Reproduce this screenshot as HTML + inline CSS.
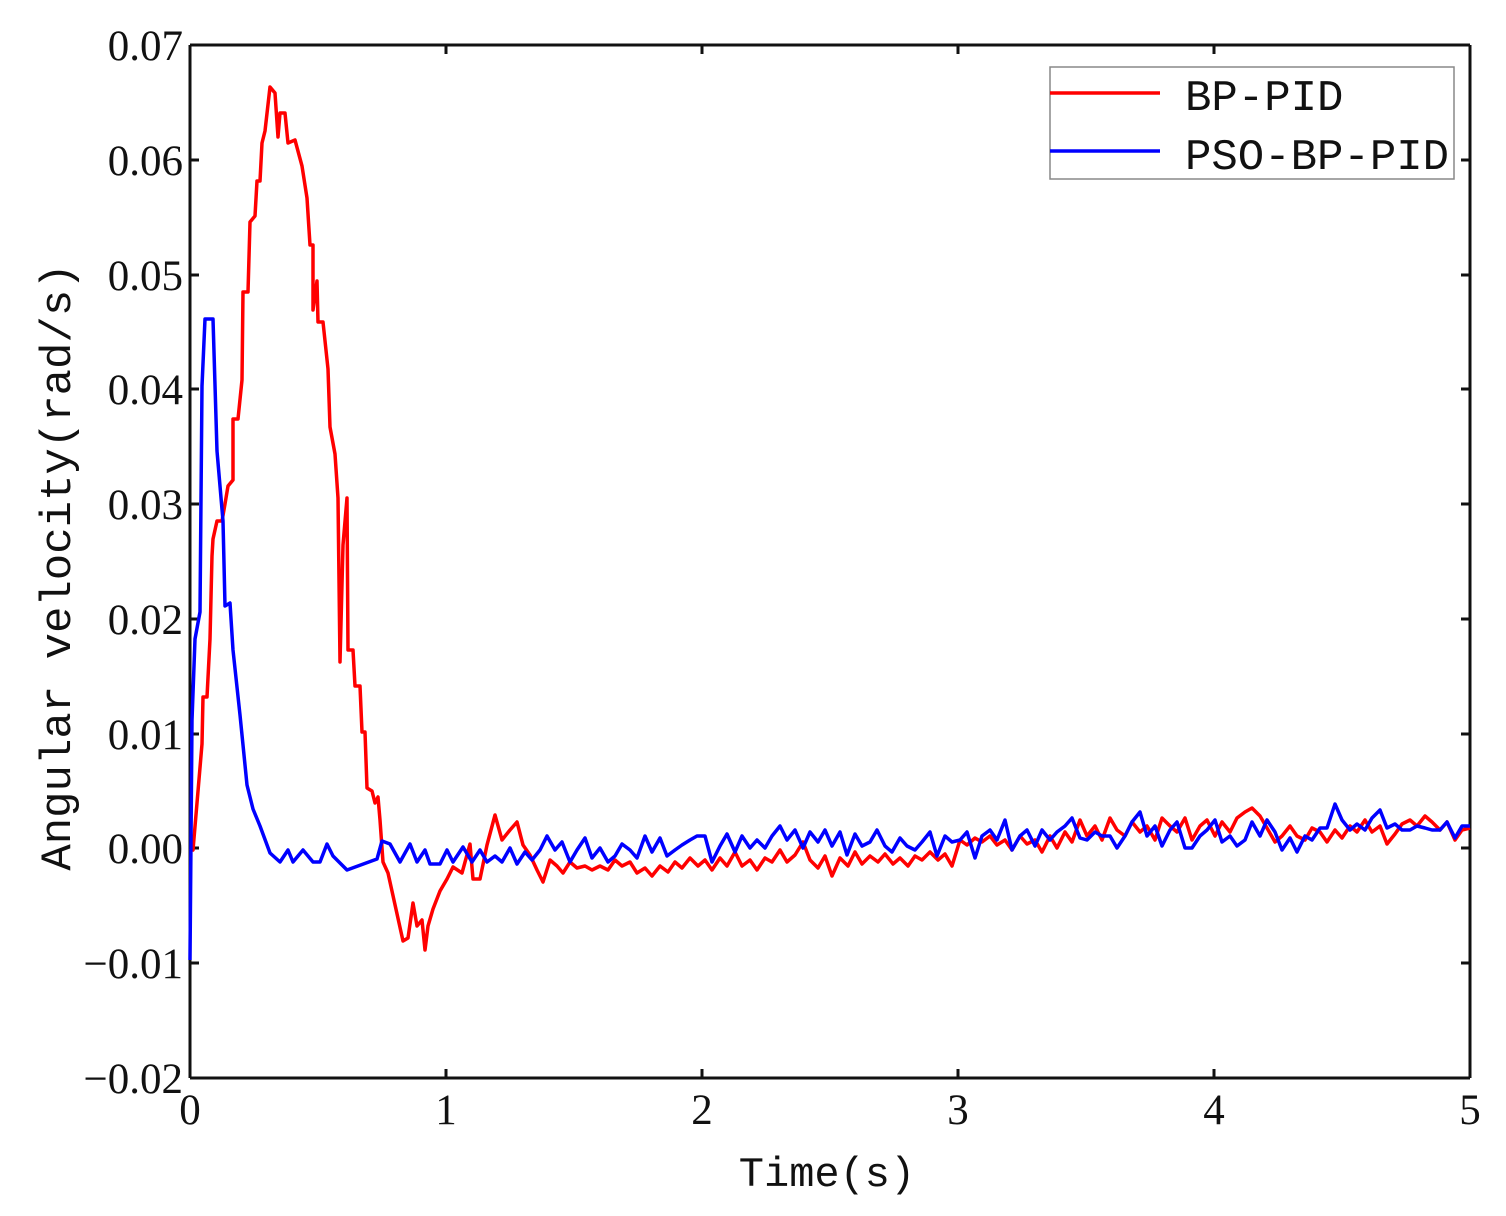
<!DOCTYPE html>
<html><head><meta charset="utf-8"><style>
html,body{margin:0;padding:0;background:#fff}
svg{display:block}
.t{font-family:"Liberation Serif",serif;font-size:43px;fill:#111}
.m{font-family:"Liberation Mono",monospace;fill:#111}
</style></head><body>
<svg width="1506" height="1216" viewBox="0 0 1506 1216" xmlns="http://www.w3.org/2000/svg">
<g stroke="#111" stroke-width="3">
<line x1="190" y1="45" x2="190" y2="1078"/><line x1="1470" y1="45" x2="1470" y2="1078"/>
<line x1="190" y1="45" x2="1470" y2="45"/><line x1="190" y1="1078" x2="1470" y2="1078"/>
<g stroke-width="3">
<line x1="446" y1="1078" x2="446" y2="1069"/><line x1="702" y1="1078" x2="702" y2="1069"/><line x1="958" y1="1078" x2="958" y2="1069"/><line x1="1214" y1="1078" x2="1214" y2="1069"/>
<line x1="446" y1="45" x2="446" y2="54"/><line x1="702" y1="45" x2="702" y2="54"/><line x1="958" y1="45" x2="958" y2="54"/><line x1="1214" y1="45" x2="1214" y2="54"/>
<line x1="190" y1="160" x2="199" y2="160"/><line x1="190" y1="275" x2="199" y2="275"/><line x1="190" y1="389" x2="199" y2="389"/><line x1="190" y1="504" x2="199" y2="504"/><line x1="190" y1="619" x2="199" y2="619"/><line x1="190" y1="734" x2="199" y2="734"/><line x1="190" y1="848" x2="199" y2="848"/><line x1="190" y1="963" x2="199" y2="963"/>
<line x1="1470" y1="160" x2="1461" y2="160"/><line x1="1470" y1="275" x2="1461" y2="275"/><line x1="1470" y1="389" x2="1461" y2="389"/><line x1="1470" y1="504" x2="1461" y2="504"/><line x1="1470" y1="619" x2="1461" y2="619"/><line x1="1470" y1="734" x2="1461" y2="734"/><line x1="1470" y1="848" x2="1461" y2="848"/><line x1="1470" y1="963" x2="1461" y2="963"/>
</g></g>
<g class="t" text-anchor="end">
<text x="183" y="60">0.07</text><text x="183" y="175">0.06</text><text x="183" y="290">0.05</text><text x="183" y="404">0.04</text><text x="183" y="519">0.03</text><text x="183" y="634">0.02</text><text x="183" y="749">0.01</text><text x="183" y="863">0.00</text><text x="183" y="978">−0.01</text><text x="183" y="1093">−0.02</text>
</g>
<g class="t" text-anchor="middle">
<text x="190" y="1124">0</text><text x="446" y="1124">1</text><text x="702" y="1124">2</text><text x="958" y="1124">3</text><text x="1214" y="1124">4</text><text x="1470" y="1124">5</text>
</g>
<text class="m" x="827" y="1186" font-size="42" text-anchor="middle">Time(s)</text>
<text class="m" font-size="44" text-anchor="middle" transform="translate(70,567) rotate(-90)">Angular velocity(rad/s)</text>
<polyline fill="none" stroke="#ff0000" stroke-width="3.5" stroke-linejoin="round" points="190,848 193,850 197,803 202,744 203,697 207,697 210,639 212,556 213,539 217,521 222,521 225,504 228,486 233,480 233,419 238,419 242,380 243,292 248,292 250,222 255,216 257,181 260,181 262,143 265,131 270,87 275,93 278,137 280,113 285,113 288,143 295,140 302,166 307,198 310,245 313,245 313,310 317,281 318,322 323,322 328,369 330,427 335,454 338,498 340,662 343,545 347,498 348,650 353,650 355,686 360,686 362,732 365,732 367,788 372,791 375,803 378,797 380,820 383,862 388,873 403,941 408,938 413,903 417,926 422,920 425,950 428,926 433,909 440,891 447,879 453,867 462,873 470,844 473,879 480,879 487,845 495,815 502,840 510,830 517,822 523,845 530,855 537,870 543,882 550,860 557,866 563,873 570,862 577,868 585,866 592,870 600,866 608,870 615,860 622,866 630,862 637,873 645,868 652,876 660,866 668,872 675,862 682,868 690,858 698,866 705,860 712,870 720,858 727,866 735,852 742,866 750,860 757,870 765,858 772,862 780,850 787,862 795,855 803,842 810,860 818,868 825,856 832,876 840,858 848,866 855,852 862,864 870,856 878,862 885,854 893,864 900,858 908,866 915,856 922,860 930,852 938,860 945,854 952,866 960,840 967,845 975,838 982,842 990,836 997,845 1005,840 1012,850 1020,836 1027,844 1035,840 1042,852 1050,836 1057,848 1065,832 1072,842 1080,820 1087,836 1095,826 1102,840 1110,818 1117,830 1125,836 1132,822 1140,832 1147,826 1155,840 1162,818 1170,826 1177,832 1185,818 1192,840 1200,826 1207,820 1215,836 1222,822 1230,832 1237,818 1245,812 1252,808 1260,816 1267,828 1275,842 1282,836 1290,826 1297,836 1305,840 1312,828 1320,832 1327,842 1335,830 1342,838 1350,826 1357,832 1365,820 1372,832 1380,826 1387,844 1395,834 1402,824 1410,820 1417,826 1425,816 1432,822 1440,830 1447,822 1455,840 1462,830 1470,828"/>
<polyline fill="none" stroke="#0000ff" stroke-width="3.5" stroke-linejoin="round" points="190,960 192,720 195,639 200,612 202,386 205,319 213,319 217,451 223,521 225,606 230,603 233,650 240,715 247,785 253,809 260,826 270,853 280,862 288,850 293,862 303,850 313,862 320,862 327,844 333,856 347,870 377,859 382,841 390,844 400,862 410,844 417,862 425,850 430,864 440,864 447,850 453,862 463,847 472,862 480,850 487,862 495,856 502,862 510,848 517,864 525,852 532,860 540,850 547,836 555,850 562,842 570,862 577,850 585,838 592,858 600,848 608,862 615,856 622,844 630,850 637,858 645,836 652,852 660,838 667,856 675,850 682,845 690,840 697,836 705,836 712,862 720,846 727,834 735,852 742,836 750,848 757,840 765,848 772,836 780,826 787,840 795,830 803,848 810,832 818,842 825,830 832,846 840,832 847,855 855,834 862,846 870,842 877,830 885,846 892,852 900,838 907,846 915,850 922,842 930,832 937,856 945,836 952,842 960,840 967,832 975,858 982,836 990,830 997,840 1005,820 1012,850 1020,836 1027,830 1035,846 1042,830 1050,840 1057,832 1065,826 1072,818 1080,838 1087,840 1095,832 1102,836 1110,836 1117,848 1125,836 1132,822 1140,812 1147,836 1155,826 1162,846 1170,830 1177,822 1185,848 1192,848 1200,836 1207,830 1215,820 1222,842 1230,836 1237,846 1245,840 1252,822 1260,836 1267,820 1275,832 1282,850 1290,838 1297,852 1305,836 1312,840 1320,828 1327,828 1335,804 1342,820 1350,830 1357,824 1365,830 1372,818 1380,810 1387,828 1395,824 1402,830 1410,830 1417,826 1425,828 1432,830 1440,830 1447,822 1455,838 1462,826 1470,826"/>
<rect x="1050" y="67" width="404" height="112" fill="#fff" stroke="#888" stroke-width="1.5"/>
<line x1="1050" y1="93" x2="1160" y2="93" stroke="#ff0000" stroke-width="3.5"/>
<line x1="1050" y1="151" x2="1160" y2="151" stroke="#0000ff" stroke-width="3.5"/>
<text class="m" x="1185" y="110" font-size="44">BP-PID</text>
<text class="m" x="1185" y="169" font-size="44">PSO-BP-PID</text>
</svg>
</body></html>
